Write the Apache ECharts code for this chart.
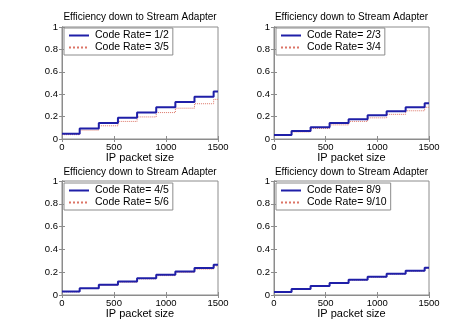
<!DOCTYPE html>
<html>
<head>
<meta charset="utf-8">
<script src="https://cdn.jsdelivr.net/npm/echarts@6/dist/echarts.min.js"></script>
<style>
html,body{margin:0;padding:0;background:#fff;}
#chart{width:474px;height:332px;}
</style>
</head>
<body>
<div id="chart"></div>
<script>
// IP packet sizes where the efficiency steps change (start of each level, plus end of axis)
var stepX = [0, 170, 354, 538, 722, 906, 1090, 1274, 1458, 1500];
// efficiency levels (one per step)
var rate12  = [0.047, 0.094, 0.142, 0.189, 0.236, 0.283, 0.330, 0.378, 0.425];
var rate35  = [0.039, 0.079, 0.118, 0.157, 0.197, 0.236, 0.275, 0.315, 0.354];
var rate23  = [0.035, 0.071, 0.106, 0.142, 0.177, 0.212, 0.248, 0.283, 0.319];
var rate34  = [0.031, 0.063, 0.094, 0.126, 0.157, 0.189, 0.220, 0.252, 0.283];
var rate45  = [0.030, 0.059, 0.089, 0.118, 0.148, 0.177, 0.207, 0.236, 0.266];
var rate56  = [0.028, 0.057, 0.085, 0.113, 0.142, 0.170, 0.198, 0.227, 0.255];
var rate89  = [0.027, 0.053, 0.080, 0.106, 0.133, 0.159, 0.186, 0.212, 0.239];
var rate910 = [0.026, 0.052, 0.079, 0.105, 0.131, 0.157, 0.184, 0.210, 0.236];

var titleText = 'Efficiency down to Stream Adapter';
var xName = 'IP packet size';
var panels = [
  {solid: 'Code Rate= 1/2', dotted: 'Code Rate= 3/5', a: rate12, b: rate35},
  {solid: 'Code Rate= 2/3', dotted: 'Code Rate= 3/4', a: rate23, b: rate34},
  {solid: 'Code Rate= 4/5', dotted: 'Code Rate= 5/6', a: rate45, b: rate56},
  {solid: 'Code Rate= 8/9', dotted: 'Code Rate= 9/10', a: rate89, b: rate910}
];
var xMin = 0, xMax = 1500, xInterval = 500;
var yMin = 0, yMax = 1, yInterval = 0.2;

// layout
var grids = [
  {left: 62, top: 27, width: 156, height: 112},
  {left: 274, top: 27, width: 155, height: 112},
  {left: 62, top: 181, width: 156, height: 114},
  {left: 274, top: 181, width: 155, height: 114}
];
var legendPos = [
  {left: 64, top: 28},
  {left: 276, top: 28},
  {left: 64, top: 183},
  {left: 276, top: 183}
];

function toPoints(levels) {
  var pts = [];
  for (var i = 0; i < stepX.length; i++) {
    pts.push([stepX[i], levels[Math.min(i, levels.length - 1)]]);
  }
  return pts;
}

var boxColor = '#8c8c8c';
var fontFam = 'Liberation Sans, Arial, sans-serif';
var option = {
  animation: false,
  backgroundColor: '#fff',
  title: [], legend: [], grid: [], xAxis: [], yAxis: [], series: []
};

panels.forEach(function (p, i) {
  var g = grids[i];
  option.grid.push({left: g.left, top: g.top, width: g.width, height: g.height,
    show: true, borderColor: boxColor, borderWidth: 1, backgroundColor: '#fff'});
  option.title.push({text: titleText, left: g.left + g.width / 2, top: g.top - 15 + (i >= 2 ? 1 : 0),
    textAlign: 'center', padding: 0,
    textStyle: {fontSize: 10, fontWeight: 'normal', color: '#000', fontFamily: fontFam}});
  option.legend.push({
    orient: 'vertical', left: legendPos[i].left, top: legendPos[i].top,
    data: [p.solid, p.dotted],
    backgroundColor: '#fff', borderColor: boxColor, borderWidth: 1, borderRadius: 0,
    padding: [2, 4, 2, 4], itemGap: 1, itemWidth: 20, itemHeight: 10,
    itemStyle: {opacity: 0},
    textStyle: {fontSize: 10.5, color: '#000', fontFamily: fontFam, padding: [0, 0, 0, 1]}
  });
  var axisCommon = {
    axisLine: {show: true, lineStyle: {color: boxColor, width: 1}},
    axisTick: {show: true, inside: true, length: 3, lineStyle: {color: boxColor}},
    splitLine: {show: false}
  };
  option.xAxis.push(Object.assign({
    type: 'value', gridIndex: i, position: 'bottom', min: xMin, max: xMax, interval: xInterval,
    axisLabel: {fontSize: 9.5, color: '#000', margin: 3, fontFamily: fontFam,
      formatter: function (v) { return String(v); }},
    name: xName, nameLocation: 'middle', nameGap: 13,
    nameTextStyle: {fontSize: 11, color: '#000', fontFamily: fontFam}
  }, axisCommon));
  option.xAxis.push(Object.assign({
    type: 'value', gridIndex: i, position: 'top', min: xMin, max: xMax, interval: xInterval,
    axisLabel: {show: false}
  }, axisCommon));
  option.yAxis.push(Object.assign({
    type: 'value', gridIndex: i, position: 'left', min: yMin, max: yMax, interval: yInterval,
    axisLabel: {fontSize: 9.5, color: '#000', margin: 4, fontFamily: fontFam,
      formatter: function (v) { return String(Math.round(v * 10) / 10); }}
  }, axisCommon));
  option.yAxis.push(Object.assign({
    type: 'value', gridIndex: i, position: 'right', min: yMin, max: yMax, interval: yInterval,
    axisLabel: {show: false}
  }, axisCommon));
  option.series.push({
    name: p.solid, type: 'line', step: 'end', xAxisIndex: 2 * i, yAxisIndex: 2 * i,
    data: toPoints(p.a), symbol: 'none', z: 3,
    lineStyle: {color: '#1f1fa8', width: 2}, itemStyle: {color: '#1f1fa8'}
  });
  option.series.push({
    name: p.dotted, type: 'line', step: 'end', xAxisIndex: 2 * i, yAxisIndex: 2 * i,
    data: toPoints(p.b), symbol: 'none', z: 2,
    lineStyle: {color: '#dc7466', width: 1, type: 'dotted'}, itemStyle: {color: '#dc7466'}
  });
});

var chart = echarts.init(document.getElementById('chart'), null, {renderer: 'canvas'});
chart.setOption(option);
</script>
</body>
</html>
